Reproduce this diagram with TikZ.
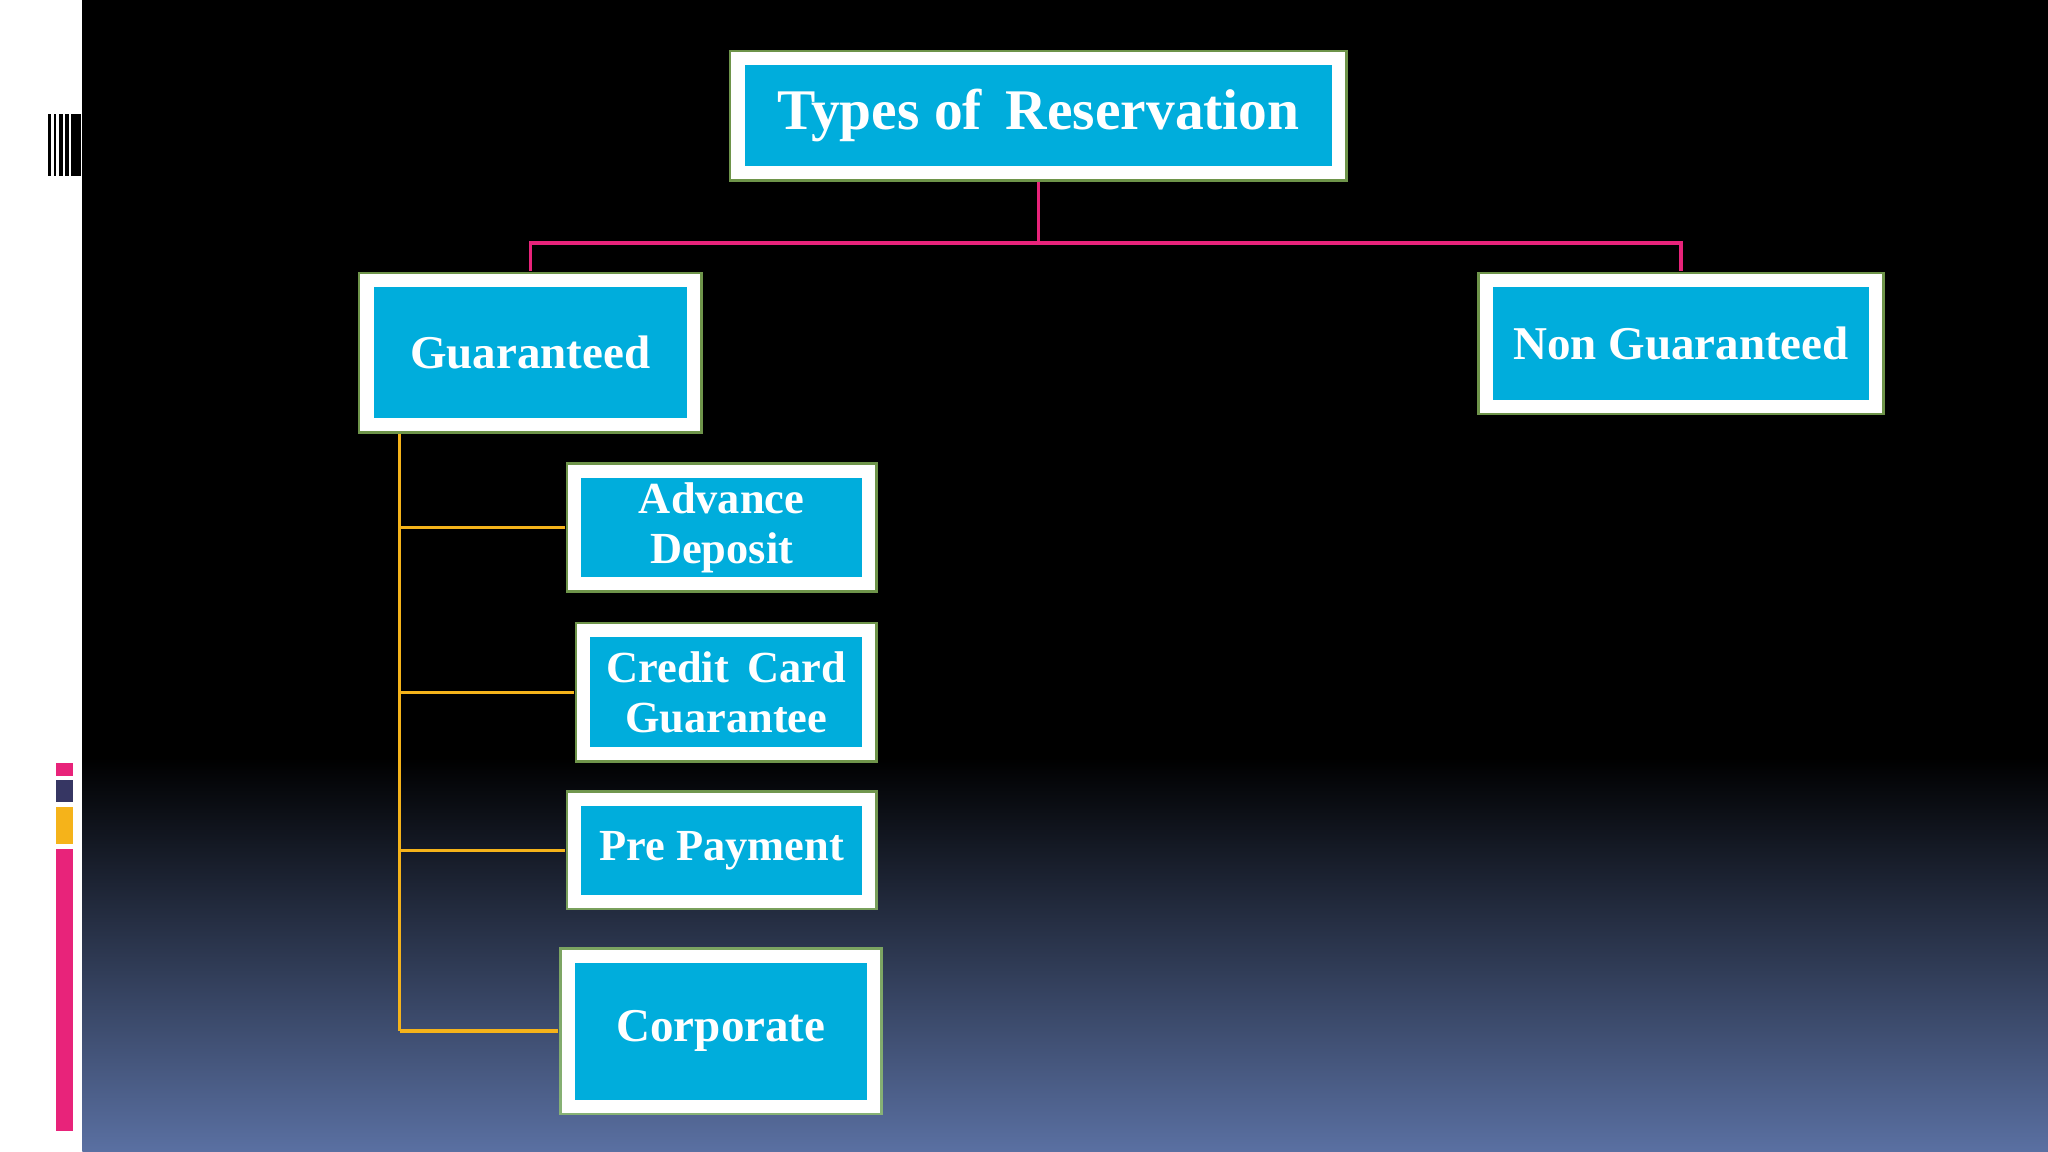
\documentclass[tikz,border=0pt]{standalone}
\usepackage{fontspec}
\setmainfont{Liberation Serif}
\definecolor{cy}{HTML}{00ADDC}
\definecolor{mag}{HTML}{E8237A}
\definecolor{yel}{HTML}{F5B31A}
\definecolor{bot}{HTML}{5A70A2}
\definecolor{glow}{HTML}{9ED36A}
\begin{document}
\begin{tikzpicture}[x=0.5pt,y=-0.5pt,
 rbox/.style={fill=cy,draw=white,line width=5pt,inner sep=0pt,text=white,font=\bfseries,align=center,
   preaction={draw=glow,line width=7pt,opacity=0.7}},
 mline/.style={draw=mag,line width=1.3pt},
 yline/.style={draw=yel,line width=1.3pt}]
\useasboundingbox (0,0) rectangle (1568,882);
\fill[white] (0,0) rectangle (63,882);
\fill[black] (63,0) rectangle (1568,582);
\shade[top color=black,bottom color=bot] (63,580) rectangle (1568,882);
% barcode
\foreach \xa/\w in {37/2,41/2,45/3,50/3,54/8}{\fill[black] (\xa,87) rectangle (\xa+\w,135);}
\fill[mag] (43,584) rectangle (56,594);
\fill[gray!70!blue!60!black] (43,597) rectangle (56,614);
\fill[yel] (43,618) rectangle (56,646);
\fill[mag] (43,650) rectangle (56,866);
% connectors
\coordinate (hbar) at (0,186);
\coordinate (vx) at (306,0);
\node[rbox,minimum width=230pt,minimum height=43.5pt,font=\bfseries\fontsize{22}{24}\selectfont] (top) at (795,88.5) {Types of\, Reservation};
\node[rbox,minimum width=125pt,minimum height=55pt,font=\bfseries\fontsize{18}{20}\selectfont] (guar) at (406,270) {Guaranteed};
\node[rbox,minimum width=149pt,minimum height=48pt,font=\bfseries\fontsize{18}{20}\selectfont] (non) at (1287,263) {Non Guaranteed};
\node[rbox,minimum width=112.5pt,minimum height=43pt,font=\bfseries\fontsize{17}{19}\selectfont] (adv) at (552.5,404) {Advance\\Deposit};
\node[rbox,minimum width=109pt,minimum height=47pt,font=\bfseries\fontsize{17}{19}\selectfont] (cc) at (556,530) {Credit\, Card\\Guarantee};
\node[rbox,minimum width=112.5pt,minimum height=39pt,font=\bfseries\fontsize{17}{19}\selectfont] (pre) at (552.5,651) {Pre Payment};
\node[rbox,minimum width=117pt,minimum height=57.5pt,font=\bfseries\fontsize{18}{20}\selectfont] (corp) at (552,789.5) {Corporate};
\begin{scope}[on background layer/.style={}]
\end{scope}
\draw[mline] ([yshift=-1.3pt]top.south) -- (top.south |- hbar) -| ([yshift=1.3pt]guar.north);
\draw[mline] (top.south |- hbar) -| ([yshift=1.3pt]non.north);
\draw[yline] ([yshift=-1.3pt]guar.south -| vx) -- (vx |- corp.west);
\foreach \n in {adv,cc,pre,corp}{\draw[yline] (vx |- \n.west) -- ([xshift=-1.3pt]\n.west);}
\end{tikzpicture}
\end{document}
